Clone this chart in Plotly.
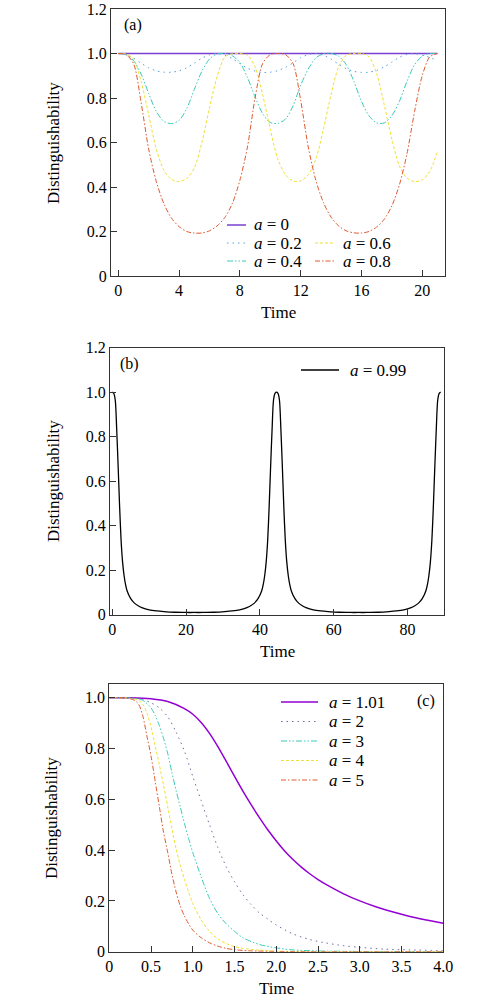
import plotly.graph_objects as go

SERIF = "Liberation Serif"

# ---- panel (a): 0 <= a < 1, periodic ----
t_a = [0, 0.5, 1, 1.5, 2, 2.5, 3, 3.5, 4, 4.5, 5, 5.5, 6, 6.5, 7, 7.5, 8, 8.5, 9, 9.5, 10,
       10.5, 11, 11.5, 12, 12.5, 13, 13.5, 14, 14.5, 15, 15.5, 16, 16.5, 17, 17.5, 18, 18.5,
       19, 19.5, 20, 20.5, 21]
t_a0 = [0, 21]
d_a0 = [1.0, 1.0]
d_a02 = [1.0, 0.994, 0.979, 0.956, 0.936, 0.922, 0.916, 0.916, 0.922, 0.936, 0.956, 0.979,
         0.994, 1.0, 0.993, 0.977, 0.954, 0.934, 0.921, 0.915, 0.916, 0.923, 0.938, 0.958,
         0.981, 0.995, 1.0, 0.992, 0.975, 0.952, 0.932, 0.92, 0.915, 0.916, 0.924, 0.94,
         0.961, 0.983, 0.996, 0.999, 0.993, 0.982, 0.968]
d_a04 = [1.0, 0.995, 0.968, 0.908, 0.82, 0.74, 0.695, 0.685, 0.699, 0.752, 0.838, 0.92,
         0.975, 0.998, 1.0, 0.99, 0.96, 0.892, 0.805, 0.73, 0.69, 0.686, 0.705, 0.765,
         0.857, 0.93, 0.98, 0.999, 1.0, 0.988, 0.95, 0.875, 0.785, 0.72, 0.688, 0.688,
         0.72, 0.785, 0.875, 0.95, 0.988, 1.0, 0.999]
d_a06 = [1.0, 0.998, 0.975, 0.875, 0.725, 0.57, 0.475, 0.434, 0.424, 0.438, 0.485, 0.6,
         0.755, 0.895, 0.983, 0.999, 1.0, 0.992, 0.94, 0.815, 0.66, 0.525, 0.455, 0.427,
         0.427, 0.455, 0.525, 0.66, 0.815, 0.94, 0.992, 1.0, 1.0, 0.985, 0.91, 0.77,
         0.615, 0.495, 0.44, 0.424, 0.432, 0.47, 0.56]
d_a08 = [1.0, 0.995, 0.955, 0.78, 0.57, 0.425, 0.325, 0.26, 0.222, 0.2, 0.193, 0.193,
         0.203, 0.225, 0.262, 0.325, 0.43, 0.58, 0.8, 0.955, 0.995, 1.0, 0.995, 0.955,
         0.79, 0.58, 0.43, 0.33, 0.265, 0.225, 0.203, 0.194, 0.193, 0.2, 0.22, 0.255,
         0.315, 0.41, 0.55, 0.74, 0.9, 0.985, 1.0]

# ---- panel (b): a = 0.99 ----
t_b = [0, 0.4, 0.8, 1.2, 1.6, 2.0, 2.4, 2.8, 3.2, 3.6, 4.0, 5, 6, 7, 8, 10, 12, 14, 17, 20,
       22.25, 24.5, 27.5, 30.5, 32.5, 34.5, 36.5, 37.5, 38.5, 39.5,
       40.5, 40.9, 41.3, 41.7, 42.1, 42.5, 42.9, 43.3, 43.7, 44.1, 44.5,
       44.9, 45.3, 45.7, 46.1, 46.5, 46.9, 47.3, 47.7, 48.1, 48.5,
       49.5, 50.5, 51.5, 52.5, 54.5, 56.5, 58.5, 61.5, 64.5, 66.75,
       69, 72, 75, 77, 79, 81, 82, 83, 84,
       85, 85.4, 85.8, 86.2, 86.6, 87, 87.4, 87.8, 88.2, 88.6, 89]
d_b099 = [1.0, 0.995, 0.965, 0.83, 0.66, 0.48, 0.33, 0.235, 0.175, 0.135, 0.108,
          0.072, 0.052, 0.04, 0.032, 0.022, 0.017, 0.014, 0.011, 0.01,
          0.01, 0.01, 0.011, 0.014, 0.017, 0.022, 0.032, 0.04, 0.052, 0.072,
          0.108, 0.135, 0.175, 0.235, 0.33, 0.48, 0.66, 0.83, 0.965, 0.995, 1.0,
          0.995, 0.965, 0.83, 0.66, 0.48, 0.33, 0.235, 0.175, 0.135, 0.108,
          0.072, 0.052, 0.04, 0.032, 0.022, 0.017, 0.014, 0.011, 0.01, 0.01,
          0.01, 0.011, 0.014, 0.017, 0.022, 0.032, 0.04, 0.052, 0.072,
          0.108, 0.135, 0.175, 0.235, 0.33, 0.48, 0.66, 0.83, 0.965, 0.995, 1.0]

# ---- panel (c): a > 1, decaying ----
t_c101 = [0, 0.25, 0.5, 0.7, 0.9, 1.0, 1.1, 1.2, 1.3, 1.4, 1.5, 1.6, 1.7, 1.8, 1.9, 2.0,
          2.1, 2.2, 2.3, 2.4, 2.5, 2.6, 2.8, 3.0, 3.2, 3.4, 3.6, 3.8, 4.0]
d_c101 = [1.0, 1.0, 0.996, 0.985, 0.957, 0.935, 0.903, 0.86, 0.808, 0.75, 0.69, 0.632,
          0.578, 0.527, 0.479, 0.436, 0.397, 0.363, 0.333, 0.307, 0.284, 0.264, 0.229,
          0.2, 0.176, 0.156, 0.139, 0.125, 0.112]
t_c2 = [0, 0.3, 0.4, 0.5, 0.6, 0.7, 0.8, 0.9, 1.0, 1.1, 1.2, 1.3, 1.4, 1.5, 1.6, 1.7, 1.8,
        1.9, 2.0, 2.2, 2.4, 2.6, 2.8, 3.0, 3.3, 3.6, 4.0]
d_c2 = [1.0, 0.998, 0.993, 0.98, 0.96, 0.925, 0.865, 0.79, 0.69, 0.595, 0.5, 0.41, 0.335,
        0.275, 0.225, 0.185, 0.152, 0.128, 0.105, 0.07, 0.048, 0.034, 0.024, 0.017, 0.01,
        0.007, 0.004]
t_c3 = [0, 0.3, 0.4, 0.5, 0.55, 0.6, 0.65, 0.7, 0.75, 0.8, 0.85, 0.9, 0.95, 1.0, 1.1, 1.2,
        1.3, 1.4, 1.5, 1.6, 1.8, 2.0, 2.2, 2.5, 3.0, 4.0]
d_c3 = [1.0, 0.998, 0.99, 0.96, 0.93, 0.89, 0.84, 0.78, 0.705, 0.635, 0.57, 0.505, 0.445,
        0.39, 0.295, 0.21, 0.15, 0.11, 0.08, 0.055, 0.028, 0.015, 0.007, 0.003, 0.001, 0]
t_c4 = [0, 0.25, 0.35, 0.4, 0.45, 0.5, 0.55, 0.6, 0.65, 0.7, 0.75, 0.8, 0.85, 0.9, 0.95,
        1.0, 1.1, 1.2, 1.3, 1.4, 1.5, 1.6, 1.8, 2.0, 2.5, 4.0]
d_c4 = [1.0, 0.998, 0.99, 0.975, 0.94, 0.885, 0.81, 0.735, 0.655, 0.57, 0.485, 0.405, 0.34,
        0.285, 0.235, 0.19, 0.125, 0.08, 0.05, 0.032, 0.02, 0.013, 0.006, 0.002, 0, 0]
t_c5 = [0, 0.2, 0.3, 0.35, 0.4, 0.45, 0.5, 0.55, 0.6, 0.65, 0.7, 0.75, 0.8, 0.85, 0.9, 0.95,
        1.0, 1.1, 1.2, 1.3, 1.4, 1.5, 1.7, 2.0, 2.5, 3.0, 4.0]
d_c5 = [1.0, 0.999, 0.99, 0.975, 0.93, 0.85, 0.77, 0.67, 0.57, 0.47, 0.39, 0.305, 0.235,
        0.18, 0.14, 0.11, 0.085, 0.055, 0.035, 0.022, 0.013, 0.008, 0.003, 0.001, 0, 0, 0]

y_ticks = [0, 0.2, 0.4, 0.6, 0.8, 1.0, 1.2]
y_labels = ["0", "0.2", "0.4", "0.6", "0.8", "1.0", "1.2"]
xa_ticks = [0, 4, 8, 12, 16, 20]
xb_ticks = [0, 20, 40, 60, 80]
xc_ticks = [0, 0.5, 1.0, 1.5, 2.0, 2.5, 3.0, 3.5, 4.0]
xc_labels = ["0", "0.5", "1.0", "1.5", "2.0", "2.5", "3.0", "3.5", "4.0"]

PURPLE_A = "#7a3fd0"
PURPLE_C = "#9400d3"
BLUE_DOT = "#5aa0e0"
GREY_DOT = "#6f6f9f"
CYAN = "#38cbb8"
YELLOW = "#f0e030"
RED = "#e05a30"

DOT = "1.5px,4px"
DASHDOTDOT = "6px,2px,1.5px,2px,1.5px,2px"
SHORTDASH = "3px,2px"
DASHDOT = "5px,2px,1.5px,2px"

W, H = 500, 1000
fig = go.Figure()


def add(x, y, name, color, dash, xa, ya, width=1.0):
    fig.add_trace(go.Scatter(
        x=x, y=y, name=name, mode="lines", showlegend=False,
        line=dict(color=color, dash=dash, width=width, shape="spline", smoothing=0.8),
        xaxis=xa, yaxis=ya, hoverinfo="skip"
    ))


def key(x0, x1, y, tx, name, color, dash, width=1.0):
    # legend sample drawn by hand so that rows and columns sit like the original
    fig.add_shape(type="line", xref="paper", yref="paper",
                  x0=x0 / W, x1=x1 / W, y0=1 - y / H, y1=1 - y / H,
                  line=dict(color=color, dash=dash, width=width))
    fig.add_annotation(text=name, x=tx / W, y=1 - y / H, xref="paper", yref="paper",
                       xanchor="left", yanchor="middle", showarrow=False,
                       font=dict(family=SERIF, size=17, color="black"))


# (a)
add(t_a0, d_a0, "a = 0", PURPLE_A, "solid", "x", "y", 1.5)
add(t_a, d_a02, "a = 0.2", BLUE_DOT, DOT, "x", "y")
add(t_a, d_a04, "a = 0.4", CYAN, DASHDOTDOT, "x", "y")
add(t_a, d_a06, "a = 0.6", YELLOW, SHORTDASH, "x", "y")
add(t_a, d_a08, "a = 0.8", RED, DASHDOT, "x", "y")
key(227, 246, 225, 252, "<i>a</i> = 0", PURPLE_A, "solid", 1.5)
key(227, 246, 243, 252, "<i>a</i> = 0.2", BLUE_DOT, DOT)
key(227, 246, 261, 252, "<i>a</i> = 0.4", CYAN, DASHDOTDOT)
key(315, 334, 243, 341, "<i>a</i> = 0.6", YELLOW, SHORTDASH)
key(315, 334, 261, 341, "<i>a</i> = 0.8", RED, DASHDOT)

# (b)
add(t_b, d_b099, "a = 0.99", "black", "solid", "x2", "y2", 1.3)
key(301, 339, 370, 348, "<i>a</i> = 0.99", "black", "solid", 1.3)

# (c)
add(t_c101, d_c101, "a = 1.01", PURPLE_C, "solid", "x3", "y3", 1.5)
add(t_c2, d_c2, "a = 2", GREY_DOT, DOT, "x3", "y3")
add(t_c3, d_c3, "a = 3", CYAN, DASHDOTDOT, "x3", "y3")
add(t_c4, d_c4, "a = 4", YELLOW, SHORTDASH, "x3", "y3")
add(t_c5, d_c5, "a = 5", RED, DASHDOT, "x3", "y3")
key(281, 318, 702, 327, "<i>a</i> = 1.01", PURPLE_C, "solid", 1.5)
key(281, 318, 721.5, 327, "<i>a</i> = 2", GREY_DOT, DOT)
key(281, 318, 741, 327, "<i>a</i> = 3", CYAN, DASHDOTDOT)
key(281, 318, 760.5, 327, "<i>a</i> = 4", YELLOW, SHORTDASH)
key(281, 318, 780, 327, "<i>a</i> = 5", RED, DASHDOT)


def frame(**kw):
    return dict(showline=True, linecolor="#333", linewidth=1, mirror=True,
                ticks="inside", ticklen=6, tickcolor="#333", tickwidth=1,
                showgrid=False, zeroline=False, fixedrange=True,
                tickfont=dict(family=SERIF, size=16, color="black"), **kw)


fig.update_layout(
    width=W, height=H,
    margin=dict(l=0, r=0, t=0, b=0, autoexpand=False),
    paper_bgcolor="white", plot_bgcolor="white",
    showlegend=False,
    xaxis=frame(domain=[0.222, 0.89], range=[-0.48, 21.5], tickvals=xa_ticks, anchor="y"),
    yaxis=frame(domain=[0.724, 0.991], range=[0, 1.2], tickvals=y_ticks, ticktext=y_labels,
                anchor="x"),
    xaxis2=frame(domain=[0.22, 0.888], range=[-0.62, 89.9], tickvals=xb_ticks, anchor="y2"),
    yaxis2=frame(domain=[0.3853, 0.6523], range=[0, 1.2], tickvals=y_ticks, ticktext=y_labels,
                 anchor="x2"),
    xaxis3=frame(domain=[0.2186, 0.8866], range=[0, 4], tickvals=xc_ticks, ticktext=xc_labels,
                 anchor="y3"),
    yaxis3=frame(domain=[0.0483, 0.3157], range=[0, 1.053], tickvals=y_ticks[:6],
                 ticktext=y_labels[:6], anchor="x3"),
)

# axis titles and panel labels
titles = [
    ("Distinguishability", 53, 143, -90),
    ("Distinguishability", 53, 481, -90),
    ("Distinguishability", 51, 818, -90),
    ("Time", 278, 312, 0),
    ("Time", 277, 651, 0),
    ("Time", 276, 988, 0),
]
for txt, px, py, ang in titles:
    fig.add_annotation(text=txt, x=px / W, y=1 - py / H, xref="paper", yref="paper",
                       showarrow=False, textangle=ang, xanchor="center", yanchor="middle",
                       font=dict(family=SERIF, size=17, color="black"))

for txt, px, py in [("(a)", 133, 25), ("(b)", 129, 364), ("(c)", 426, 701)]:
    fig.add_annotation(text=txt, x=px / W, y=1 - py / H, xref="paper", yref="paper",
                       showarrow=False, xanchor="center", yanchor="middle",
                       font=dict(family=SERIF, size=16, color="black"))

# the page's default 8px body margin would push the figure off the window
fig.write_html("out.html", config={"displayModeBar": False},
               post_script="document.body.style.margin = '0';")
